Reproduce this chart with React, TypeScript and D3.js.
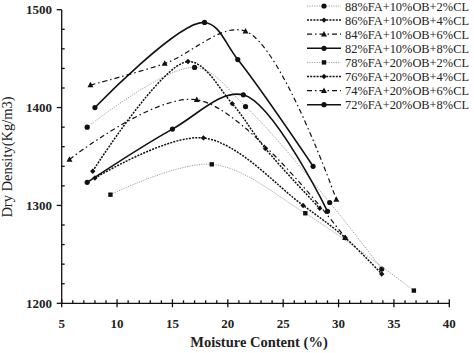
import React, { useEffect, useRef } from 'react';
import * as d3 from 'd3';

// series data: [moisture %, dry density]
const fa88: [number, number][] = [[7.3, 1380], [17.0, 1441], [21.6, 1401], [29.2, 1303], [33.9, 1235]];
const fa86: [number, number][] = [[7.8, 1335], [16.4, 1447], [20.4, 1404], [23.4, 1358], [28.3, 1297]];
const fa84: [number, number][] = [[7.6, 1423], [14.3, 1445], [21.6, 1478], [29.8, 1306]];
const fa82: [number, number][] = [[8.0, 1400], [17.9, 1487], [20.9, 1449], [27.7, 1340]];
const fa78: [number, number][] = [[9.4, 1311], [18.55, 1342], [27.0, 1292], [36.8, 1213]];
const fa76: [number, number][] = [[8.0, 1328], [17.8, 1369], [26.8, 1300], [30.6, 1267], [33.9, 1230]];
const fa74: [number, number][] = [[5.7, 1347], [17.2, 1408], [30.6, 1267]];
const fa72: [number, number][] = [[7.3, 1323.6], [15.0, 1378], [21.4, 1413], [29.0, 1294]];

const seriesNames = [
  '88%FA+10%OB+2%CL',
  '86%FA+10%OB+4%CL',
  '84%FA+10%OB+6%CL',
  '82%FA+10%OB+8%CL',
  '78%FA+20%OB+2%CL',
  '76%FA+20%OB+4%CL',
  '74%FA+20%OB+6%CL',
  '72%FA+20%OB+8%CL',
];
const seriesData = [fa88, fa86, fa84, fa82, fa78, fa76, fa74, fa72];

const xTicks = [5, 10, 15, 20, 25, 30, 35, 40];
const yTicks = [1200, 1300, 1400, 1500];

type Style = { color: string; dash: string; width: number; marker: 'circle' | 'square' | 'triangle' | 'diamond' };
const styles: Style[] = [
  { color: '#a0a0a0', dash: '1.2,1.2', width: 1, marker: 'circle' },
  { color: '#111', dash: '2,1.2', width: 1.5, marker: 'diamond' },
  { color: '#111', dash: '5,3,1.5,3', width: 1.2, marker: 'triangle' },
  { color: '#111', dash: '', width: 1.6, marker: 'circle' },
  { color: '#a0a0a0', dash: '1.2,1.2', width: 1, marker: 'square' },
  { color: '#111', dash: '2,1.2', width: 1.5, marker: 'diamond' },
  { color: '#111', dash: '5,3,1.5,3', width: 1.2, marker: 'triangle' },
  { color: '#111', dash: '', width: 1.6, marker: 'circle' },
];

const App: React.FC = () => {
  const svgRef = useRef<SVGSVGElement | null>(null);

  useEffect(() => {
    const width = 474;
    const height = 353;
    const svg = d3.select(svgRef.current).attr('width', width).attr('height', height);
    svg.selectAll('*').remove();

    const font = '"Liberation Serif", "Times New Roman", serif';
    const xScale = d3.scaleLinear().domain([5, 40]).range([61.7, 449.3]);
    const yScale = d3.scaleLinear().domain([1200, 1500]).range([303.3, 9.7]);

    const axes = svg.append('g').attr('stroke', '#111').attr('stroke-width', 1.3);
    // axis lines
    axes.append('line').attr('x1', xScale(5)).attr('x2', xScale(40)).attr('y1', yScale(1200)).attr('y2', yScale(1200));
    axes.append('line').attr('x1', xScale(5)).attr('x2', xScale(5)).attr('y1', yScale(1200)).attr('y2', yScale(1500));

    // x ticks: minor every 1, major every 5
    d3.range(5, 41, 1).forEach((v) => {
      const major = v % 5 === 0;
      axes.append('line')
        .attr('x1', xScale(v)).attr('x2', xScale(v))
        .attr('y1', yScale(1200) - (major ? 4 : 3))
        .attr('y2', yScale(1200) + (major ? 4 : 0));
    });
    // y ticks: minor every 20, major every 100
    d3.range(1200, 1501, 20).forEach((v) => {
      const major = v % 100 === 0;
      axes.append('line')
        .attr('x1', xScale(5) - (major ? 5 : 0)).attr('x2', xScale(5) + (major ? 0 : 3))
        .attr('y1', yScale(v)).attr('y2', yScale(v));
    });

    svg.append('g')
      .selectAll('text')
      .data(xTicks)
      .enter()
      .append('text')
      .attr('x', (d) => xScale(d))
      .attr('y', 328)
      .attr('text-anchor', 'middle')
      .style('font-family', font)
      .style('font-size', '13px')
      .style('font-weight', 'bold')
      .attr('fill', '#222')
      .text((d) => d);

    svg.append('g')
      .selectAll('text')
      .data(yTicks)
      .enter()
      .append('text')
      .attr('x', 52)
      .attr('y', (d) => yScale(d) + 4.5)
      .attr('text-anchor', 'end')
      .style('font-family', font)
      .style('font-size', '13px')
      .style('font-weight', 'bold')
      .attr('fill', '#222')
      .text((d) => d);

    svg.append('text')
      .attr('x', 259)
      .attr('y', 347)
      .attr('text-anchor', 'middle')
      .style('font-family', font)
      .style('font-size', '14.5px')
      .style('font-weight', 'bold')
      .attr('fill', '#222')
      .text('Moisture Content (%)');

    svg.append('text')
      .attr('transform', 'rotate(-90)')
      .attr('x', -157)
      .attr('y', 12)
      .attr('text-anchor', 'middle')
      .style('font-family', font)
      .style('font-size', '14.5px')
      .attr('fill', '#222')
      .text('Dry Density(Kg/m3)');

    const line = d3.line<[number, number]>()
      .x((d) => xScale(d[0]))
      .y((d) => yScale(d[1]))
      .curve(d3.curveCatmullRom.alpha(0.5));

    const drawMarker = (g: d3.Selection<SVGGElement, unknown, null, undefined>, kind: Style['marker'], x: number, y: number) => {
      if (kind === 'circle') {
        g.append('circle').attr('cx', x).attr('cy', y).attr('r', 2.6).attr('fill', '#111');
      } else if (kind === 'square') {
        g.append('rect').attr('x', x - 2.2).attr('y', y - 2.2).attr('width', 4.4).attr('height', 4.4).attr('fill', '#111');
      } else if (kind === 'triangle') {
        g.append('path').attr('d', `M${x},${y - 3.2}L${x + 3},${y + 2.3}L${x - 3},${y + 2.3}Z`).attr('fill', '#111');
      } else {
        g.append('path').attr('d', `M${x},${y - 2.7}L${x + 2.7},${y}L${x},${y + 2.7}L${x - 2.7},${y}Z`).attr('fill', '#111');
      }
    };

    const plot = svg.append('g');
    seriesData.forEach((pts, i) => {
      const st = styles[i];
      plot.append('path')
        .attr('d', line(pts))
        .attr('fill', 'none')
        .attr('stroke', st.color)
        .attr('stroke-width', st.width)
        .attr('stroke-dasharray', st.dash);
      const mg = plot.append('g');
      pts.forEach((p) => drawMarker(mg, st.marker, xScale(p[0]), yScale(p[1])));
    });

    // legend
    const legend = svg.append('g');
    seriesNames.forEach((name, i) => {
      const st = styles[i];
      const y = 6 + i * 14.1;
      legend.append('line')
        .attr('x1', 307).attr('x2', 341).attr('y1', y).attr('y2', y)
        .attr('stroke', st.color)
        .attr('stroke-width', st.width)
        .attr('stroke-dasharray', st.dash);
      const mg = legend.append('g');
      drawMarker(mg, st.marker, 324, y);
      legend.append('text')
        .attr('x', 345)
        .attr('y', y + 4.5)
        .attr('textLength', 124)
        .attr('lengthAdjust', 'spacingAndGlyphs')
        .style('font-family', font)
        .style('font-size', '13px')
        .attr('fill', '#222')
        .text(name);
    });
  }, []);

  return (
    <div style={{ position: 'absolute', left: 0, top: 0 }}>
      <svg ref={svgRef} style={{ display: 'block', background: '#fff' }}></svg>
    </div>
  );
};

export default App;
